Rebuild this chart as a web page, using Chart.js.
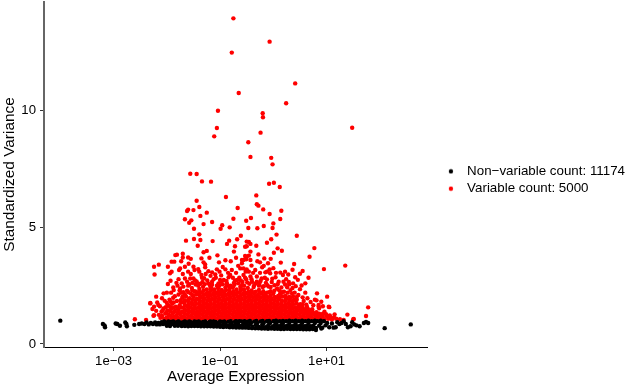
<!DOCTYPE html>
<html><head><meta charset="utf-8">
<style>html,body{margin:0;padding:0;background:#fff}#w{width:630px;height:388px}canvas{display:block}</style>
<script src="https://cdn.jsdelivr.net/npm/chart.js@4"></script>
</head><body><div id="w"><canvas id="c" width="630" height="388"></canvas></div>
<script>
// All pairs are [log10(average expression), standardized variance].
const seriesNames=["Non\u2212variable count: 11174","Variable count: 5000"];
const xTickValues=[1e-3,1e-1,1e1];
const xTickLabels=["1e\u221203","1e\u221201","1e+01"];
const yTickValues=[0,5,10];
const variableOutliers=[[-0.75,13.96],[-0.07,12.96],[-0.78,12.49],[0.41,11.17],[-0.65,10.76],[0.24,10.32],[-1.04,10.0],[-0.2,9.89],[-0.195,9.72],[-1.06,9.26],[1.48,9.27],[-1.11,8.9],[-0.47,8.65],[-0.43,8.02],[-0.24,9.06],[-0.04,7.98],[-0.015,7.7],[-0.08,6.87],[0.01,6.91],[0.12,6.73],[-0.32,6.37],[-0.31,5.99],[-0.28,5.93],[-0.19,5.77],[0.15,5.71],[-0.07,5.57],[0.13,5.36],[-0.42,5.4],[-0.51,5.28],[0,5.17],[-0.18,5.06],[-0.47,4.97],[-0.3,4.96],[-0.015,4.97],[-1.56,7.3],[-1.44,7.29],[-1.34,6.97],[-1.17,6.96],[-0.89,6.3],[-1.44,6.14],[-1.39,5.87],[-0.67,5.83],[-1.6,5.76],[-1.62,5.7],[-1.5,5.74],[-1.25,5.63],[-1.37,5.49],[-1.66,5.35],[-1.54,5.3],[-1.58,5.2],[-1.31,5.14],[-1.15,5.23],[-0.75,5.37],[-0.96,5.09],[-0.82,5.0],[-0.99,4.94],[-1.49,4.94]];
const variableFringe=[[-1.64,4.43],[-1.49,4.5],[-1.39,4.7],[-1.37,4.46],[-1.42,4.21],[-1.14,4.41],[-0.83,4.43],[-0.87,4.29],[-0.68,4.49],[-0.61,4.64],[-0.72,4.19],[-0.74,3.96],[-0.5,4.39],[-0.46,4.37],[-0.53,4.17],[-0.43,3.96],[-1.31,3.93],[-1.25,3.99],[-1.7,3.87],[-1.84,3.81],[-1.81,3.83],[-1.6,3.71],[-1.7,3.71],[-1.35,3.67],[-1.91,3.53],[-1.86,3.53],[-1.31,3.5],[-1.28,3.41],[-1.28,3.29],[-1.02,3.5],[-0.9,3.59],[-1.59,3.44],[-1.66,3.31],[-1.98,3.31],[-2.24,3.31],[-2.15,3.4],[-2.23,2.98],[-1.75,3.24],[-1.77,3.17],[-1.91,3.1],[-1.94,3.03],[-1.41,3.21],[-1.5,3.31],[-1.48,3.17],[-1.39,3.1],[-1.27,3.0],[-1.15,3.07],[-1.09,2.98],[-1.01,3.1],[-0.9,3.2],[-0.78,3.17],[-0.62,3.24],[-0.56,3.6],[-0.5,3.74],[-0.59,3.46],[-0.43,3.6],[-1.93,2.71],[-1.98,2.57],[-1.66,2.81],[-1.56,2.81],[-1.62,2.67],[-1.5,2.81],[-1.34,2.84],[-1.15,2.67],[-1.03,2.6],[-0.93,2.74],[-0.81,2.96],[-0.68,2.74],[-0.56,2.96],[-1.75,2.38],[-1.87,2.31],[-1.69,2.46],[-2.06,2.17],[-2.0,2.2],[-2.2,2.03],[-2.09,1.96],[-2.31,1.74],[-2.24,1.6],[-2.16,1.67],[-2.25,1.21],[-2.39,1.03],[-2.6,1.06],[-2.24,1.23],[-2.31,1.76],
[0.06,4.69],[0.44,4.64],[-0.04,4.49],[-0.12,4.34],[-0.43,4.29],[-0.32,4.21],[-0.5,4.19],[0.08,4.1],[0.16,4.0],[0.77,4.11],[0.01,3.91],[-0.28,3.84],[-0.46,3.79],[-0.53,3.77],[-0.17,3.67],[0.68,3.74],[-0.51,3.63],[-0.59,3.6],[0.14,3.49],[-0.1,3.46],[0.39,3.43],[1.35,3.36],[0.36,3.18],[0.55,3.13],[0.5,3.01],[0.95,3.21],[-0.56,3.24],[-0.41,3.36],[-0.5,3.2],[-0.34,3.17],[-0.21,3.29],[-0.15,3.07],[-0.07,3.2],[0.13,3.06],[0.18,2.96],[0.41,2.86],[0.66,2.84],[-0.22,2.81],[-0.12,2.77],[-0.06,3.03],[0.04,2.86],[0.1,2.67],[0.19,2.67],[0.37,2.6],[0.53,2.51],[-0.31,2.89],[-0.43,2.89],[-0.4,2.67],[-0.31,2.67],[-0.18,2.48],[-0.09,2.46],[0.07,2.38],[0.26,2.43],[0.32,2.31],[0.35,2.17],[0.82,2.17],[1.01,2.03],[0.81,1.87],[0.9,1.81],[0.57,1.84],[0.51,1.71],[0.13,2.17],[0,2.17],[0.63,1.6],[0.73,1.49],[0.85,1.6],[0.86,1.53],[1.05,1.58],[0.96,1.38],[0.99,1.28],[1.15,1.27],[1.25,1.06],[1.39,1.26],[1.5,1.06],[1.32,1.03],[1.78,1.57],[1.74,1.2],[1.51,1.07],[1.04,1.6],[0.85,1.67],
[-1.82,2.62],[-1.44,2.68],[-1.24,2.72],[-1.08,2.84],[-0.87,2.58],[-0.74,2.62],[-0.61,2.72],[-0.49,2.64],[-0.26,2.58],[-0.03,2.66],[0.24,2.78],[0.3,2.56],[-1.58,2.56],[-1.37,2.58],[-1.19,2.52],[-0.98,2.68],[-0.76,2.84],[-0.53,2.84],[-0.36,2.52],[-0.14,2.62]];
const variableUpper=[[-1.88,2.42],[-1.8,2.5],[-1.72,2.6],[-1.78,2.78],[-1.52,2.62],[-1.47,2.72],[-1.41,2.5],[-1.33,2.66],[-1.3,2.82],[-1.22,2.6],[-1.17,2.55],[-1.12,2.78],[-1.06,2.5],[-1.0,2.74],[-0.95,2.56],[-0.88,2.7],[-0.84,2.86],[-0.8,2.5],[-0.72,2.72],[-0.66,2.6],[-0.64,2.84],[-0.58,2.66],[-0.55,2.5],[-0.51,2.78],[-0.45,2.58],[-0.41,2.78],[-0.37,2.44],[-0.33,2.6],[-0.27,2.5],[-0.24,2.7],[-0.2,2.44],[-0.16,2.84],[-0.11,2.52],[-0.05,2.44],[-0.02,2.8],[0.02,2.52],[0.08,2.56],[0.11,2.3],[0.15,2.42],[0.2,2.24],[0.22,2.55],[0.27,2.2],[0.29,2.66],[0.36,2.4],[0.4,2.2],[0.42,2.48],[0.47,2.1],[0.5,2.35],[0.55,2.0],[0.6,2.2],[0.64,1.96],[0.7,1.8],[0.75,1.66],[0.78,1.9],[0.93,1.62],
[-1.7,3.0],[-1.6,3.1],[-1.55,3.0],[-1.35,2.96],[-1.22,3.12],[-1.18,2.92],[-1.06,3.2],[-0.98,2.94],[-0.95,3.3],[-0.85,3.05],[-0.7,3.05],[-0.66,3.35],[-0.52,3.1],[-0.46,3.1],[-0.38,3.05],[-0.25,3.05],[-0.18,3.35],[-0.12,3.1],[0.0,3.25],[0.05,3.05],[0.22,3.1],[0.28,2.98],[0.46,2.75],[0.6,2.6],[-1.73,3.55],[-1.55,3.65],[-1.2,3.7],[-1.05,3.8],[-0.8,3.55],[-0.7,3.7],[-0.3,3.55],[-0.25,3.5],[-0.05,3.65],
[-1.73,2.2],[-1.66,2.12],[-1.59,2.22],[-1.52,2.3],[-1.45,2.24],[-1.38,2.22],[-1.31,2.3],[-1.24,2.22],[-1.17,2.42],[-1.1,2.24],[-1.03,2.42],[-0.96,2.26],[-0.89,2.3],[-0.82,2.4],[-0.75,2.26],[-0.68,2.22],[-0.61,2.38],[-0.54,2.22],[-0.47,2.24],[-0.4,2.04],[-0.4,2.22],[-0.33,2.24],[-0.26,2.02],[-0.26,2.2],[-0.19,2.26],[-0.12,2.04],[-0.12,2.2],[-0.05,2.26],[0.02,2.02],[0.02,2.28],[0.09,2.06],[0.16,2.04],[0.16,2.22],[0.23,2.06],[0.3,2.02],[0.37,2.04],[0.44,2.02]];
const variableEdges=[[-2.2,1.42],[-2.18,1.78],[-2.27,1.5],[-2.15,1.25],[-2.09,1.2],[-2.08,1.44],[-2.0,1.14],[-2.01,1.35],[-2.02,1.58],[-2.0,1.76],[-1.93,1.2],[-1.94,1.4],[-1.94,1.6],[-1.93,1.82],[-1.87,1.16],[-1.87,1.36],[-1.87,1.56],[-1.87,1.78],[-1.7,2.04],[0.58,1.48],[0.65,1.5],[0.72,1.46],[0.79,1.32],[0.86,1.3],[0.93,1.3],[1.0,1.2],[1.08,1.14],[1.14,1.14],[0.47,1.68],[0.55,1.7],[0.62,1.68],[0.4,1.9],[0.37,1.88]];
const variableCore=[[-2.12,1.12],[-2.1,1.38],[-2.13,1.62],[-2.05,1.08],[-2.03,1.3],[-2.06,1.52],[-2.04,1.85],[-1.98,1.06],[-1.96,1.24],[-1.99,1.44],[-1.97,1.66],[-1.95,1.9],[-1.91,1.1],[-1.89,1.3],[-1.92,1.5],[-1.9,1.72],[-1.88,1.98],[-1.92,2.2],[-1.84,1.05],[-1.82,1.22],[-1.85,1.42],[-1.83,1.6],[-1.81,1.84],[-1.85,2.05],[-1.77,1.08],[-1.75,1.27],[-1.78,1.46],[-1.76,1.66],[-1.74,1.88],[-1.78,2.12],[-1.76,2.3],
[-1.7,1.04],[-1.68,1.2],[-1.71,1.38],[-1.69,1.56],[-1.67,1.76],[-1.71,1.98],[-1.69,2.22],[-1.63,1.08],[-1.61,1.25],[-1.64,1.43],[-1.62,1.62],[-1.6,1.82],[-1.64,2.04],[-1.62,2.28],[-1.6,2.5],[-1.56,1.05],[-1.54,1.22],[-1.57,1.4],[-1.55,1.58],[-1.53,1.78],[-1.57,1.96],[-1.55,2.16],[-1.53,2.4],[-1.49,1.08],[-1.47,1.26],[-1.5,1.44],[-1.48,1.63],[-1.46,1.82],[-1.5,2.02],[-1.48,2.26],[-1.46,2.55],
[-1.42,1.05],[-1.4,1.22],[-1.43,1.4],[-1.41,1.58],[-1.39,1.76],[-1.43,1.94],[-1.41,2.14],[-1.39,2.36],[-1.43,2.6],[-1.35,1.08],[-1.33,1.26],[-1.36,1.44],[-1.34,1.62],[-1.32,1.8],[-1.36,2.0],[-1.34,2.2],[-1.32,2.45],[-1.28,1.05],[-1.26,1.22],[-1.29,1.4],[-1.27,1.58],[-1.25,1.76],[-1.29,1.95],[-1.27,2.14],[-1.25,2.34],[-1.29,2.56],[-1.21,1.08],[-1.19,1.26],[-1.22,1.44],[-1.2,1.62],[-1.18,1.8],[-1.22,1.98],[-1.2,2.18],[-1.18,2.4],
[-1.14,1.05],[-1.12,1.22],[-1.15,1.4],[-1.13,1.58],[-1.11,1.76],[-1.15,1.94],[-1.13,2.14],[-1.11,2.34],[-1.15,2.54],[-1.07,1.08],[-1.05,1.26],[-1.08,1.44],[-1.06,1.62],[-1.04,1.8],[-1.08,1.98],[-1.06,2.18],[-1.04,2.4],[-1.0,1.05],[-0.98,1.22],[-1.01,1.4],[-0.99,1.58],[-0.97,1.76],[-1.01,1.94],[-0.99,2.14],[-0.97,2.32],[-1.01,2.52],[-0.93,1.08],[-0.91,1.26],[-0.94,1.44],[-0.92,1.62],[-0.9,1.8],[-0.94,1.98],[-0.92,2.18],[-0.9,2.42],
[-0.86,1.05],[-0.84,1.22],[-0.87,1.4],[-0.85,1.58],[-0.83,1.76],[-0.87,1.94],[-0.85,2.14],[-0.83,2.32],[-0.87,2.5],[-0.79,1.08],[-0.77,1.26],[-0.8,1.44],[-0.78,1.62],[-0.76,1.8],[-0.8,1.98],[-0.78,2.18],[-0.76,2.42],[-0.72,1.05],[-0.7,1.22],[-0.73,1.4],[-0.71,1.58],[-0.69,1.76],[-0.73,1.94],[-0.71,2.14],[-0.69,2.34],[-0.73,2.54],[-0.65,1.08],[-0.63,1.26],[-0.66,1.44],[-0.64,1.62],[-0.62,1.8],[-0.66,1.98],[-0.64,2.2],[-0.62,2.45],
[-0.58,1.05],[-0.56,1.22],[-0.59,1.4],[-0.57,1.58],[-0.55,1.76],[-0.59,1.94],[-0.57,2.14],[-0.55,2.34],[-0.59,2.52],[-0.51,1.08],[-0.49,1.26],[-0.52,1.44],[-0.5,1.62],[-0.48,1.8],[-0.52,1.98],[-0.5,2.18],[-0.48,2.4],[-0.44,1.05],[-0.42,1.22],[-0.45,1.4],[-0.43,1.58],[-0.41,1.76],[-0.45,1.94],[-0.43,2.12],[-0.41,2.3],[-0.37,1.08],[-0.35,1.26],[-0.38,1.44],[-0.36,1.62],[-0.34,1.8],[-0.38,1.98],[-0.36,2.16],
[-0.3,1.05],[-0.28,1.22],[-0.31,1.4],[-0.29,1.58],[-0.27,1.76],[-0.31,1.94],[-0.29,2.1],[-0.27,2.32],[-0.23,1.08],[-0.21,1.26],[-0.24,1.44],[-0.22,1.62],[-0.2,1.8],[-0.24,1.98],[-0.22,2.18],[-0.16,1.05],[-0.14,1.22],[-0.17,1.4],[-0.15,1.58],[-0.13,1.76],[-0.17,1.94],[-0.15,2.14],[-0.09,1.08],[-0.07,1.26],[-0.1,1.44],[-0.08,1.62],[-0.06,1.8],[-0.1,1.98],[-0.08,2.22],
[-0.02,1.05],[0,1.22],[-0.03,1.4],[-0.01,1.58],[0.01,1.76],[-0.03,1.94],[0.05,1.08],[0.07,1.26],[0.04,1.44],[0.06,1.62],[0.08,1.8],[0.04,2.0],[0.12,1.05],[0.14,1.22],[0.11,1.4],[0.13,1.58],[0.15,1.76],[0.11,1.96],[0.19,1.08],[0.21,1.26],[0.18,1.44],[0.2,1.62],[0.22,1.82],[0.18,2.04],[0.26,1.05],[0.28,1.22],[0.25,1.4],[0.27,1.58],[0.29,1.76],[0.25,1.96],
[0.33,1.08],[0.35,1.26],[0.32,1.44],[0.34,1.62],[0.36,1.8],[0.32,1.98],[0.4,1.05],[0.42,1.22],[0.39,1.4],[0.41,1.58],[0.43,1.76],[0.47,1.08],[0.49,1.26],[0.46,1.44],[0.48,1.6],[0.44,1.9],[0.54,1.05],[0.56,1.22],[0.53,1.4],[0.55,1.56],[0.61,1.08],[0.63,1.26],[0.6,1.42],[0.68,1.05],[0.7,1.22],[0.67,1.38],[0.75,1.08],[0.77,1.26],[0.74,1.36],[0.82,1.05],[0.84,1.2],[0.81,1.36],[0.89,1.08],[0.91,1.24],[0.96,1.05],[1.03,1.08],[1.06,1.22],[1.1,1.05],[1.18,1.08]];
const variableCoreFill=[[-1.8,1.14],[-1.8,1.33],[-1.8,1.52],[-1.73,1.15],[-1.73,1.36],[-1.73,1.56],[-1.73,1.78],[-1.66,1.12],[-1.66,1.3],[-1.66,1.48],[-1.66,1.66],[-1.66,1.88],[-1.59,1.16],[-1.59,1.34],[-1.59,1.52],[-1.59,1.7],[-1.59,1.92],[-1.52,1.14],[-1.52,1.33],[-1.52,1.5],[-1.52,1.7],[-1.52,1.9],[-1.52,2.1],[-1.45,1.16],[-1.45,1.34],[-1.45,1.52],[-1.45,1.72],[-1.45,1.92],[-1.45,2.12],[-1.38,1.14],[-1.38,1.33],[-1.38,1.52],[-1.38,1.7],[-1.38,1.88],[-1.38,2.08],[-1.31,1.16],[-1.31,1.34],[-1.31,1.52],[-1.31,1.7],[-1.31,1.9],[-1.31,2.1],[-1.24,1.14],[-1.24,1.32],[-1.24,1.5],[-1.24,1.68],[-1.24,1.86],[-1.24,2.06],[-1.17,1.16],[-1.17,1.34],[-1.17,1.52],[-1.17,1.7],[-1.17,1.9],[-1.17,2.08],[-1.17,2.28],[-1.1,1.14],[-1.1,1.32],[-1.1,1.5],[-1.1,1.68],[-1.1,1.86],[-1.1,2.06],[-1.03,1.16],[-1.03,1.34],[-1.03,1.52],[-1.03,1.7],[-1.03,1.9],[-1.03,2.08],[-1.03,2.26],[-0.96,1.14],[-0.96,1.32],[-0.96,1.5],[-0.96,1.68],[-0.96,1.86],[-0.96,2.06],[-0.89,1.16],[-0.89,1.34],[-0.89,1.52],[-0.89,1.7],[-0.89,1.9],[-0.89,2.08],[-0.82,1.14],[-0.82,1.32],[-0.82,1.5],[-0.82,1.68],[-0.82,1.86],[-0.82,2.06],[-0.82,2.24],[-0.75,1.16],[-0.75,1.34],[-0.75,1.52],[-0.75,1.7],[-0.75,1.9],[-0.75,2.08],[-0.68,1.14],[-0.68,1.32],[-0.68,1.5],[-0.68,1.68],[-0.68,1.86],[-0.68,2.06],[-0.61,1.16],[-0.61,1.34],[-0.61,1.52],[-0.61,1.7],[-0.61,1.9],[-0.61,2.08],[-0.61,2.28],[-0.54,1.14],[-0.54,1.32],[-0.54,1.5],[-0.54,1.68],[-0.54,1.86],[-0.54,2.06],[-0.47,1.16],[-0.47,1.34],[-0.47,1.52],[-0.47,1.7],[-0.47,1.88],[-0.47,2.06],[-0.4,1.14],[-0.4,1.32],[-0.4,1.5],[-0.4,1.68],[-0.4,1.86],[-0.33,1.16],[-0.33,1.34],[-0.33,1.52],[-0.33,1.7],[-0.33,1.88],[-0.33,2.04],[-0.26,1.14],[-0.26,1.32],[-0.26,1.5],[-0.26,1.68],[-0.26,1.86],[-0.19,1.16],[-0.19,1.34],[-0.19,1.52],[-0.19,1.7],[-0.19,1.88],[-0.19,2.06],[-0.12,1.14],[-0.12,1.32],[-0.12,1.5],[-0.12,1.68],[-0.12,1.86],[-0.05,1.16],[-0.05,1.34],[-0.05,1.52],[-0.05,1.7],[-0.05,1.88],[-0.05,2.08],[0.02,1.14],[0.02,1.32],[0.02,1.5],[0.02,1.68],[0.02,1.86],[0.09,1.16],[0.09,1.34],[0.09,1.52],[0.09,1.7],[0.09,1.9],[0.16,1.14],[0.16,1.32],[0.16,1.5],[0.16,1.68],[0.16,1.86],[0.23,1.16],[0.23,1.34],[0.23,1.52],[0.23,1.7],[0.23,1.9],[0.3,1.14],[0.3,1.32],[0.3,1.5],[0.3,1.68],[0.3,1.86],[0.37,1.16],[0.37,1.34],[0.37,1.52],[0.37,1.7],[0.44,1.14],[0.44,1.32],[0.44,1.5],[0.51,1.16],[0.51,1.34],[0.51,1.52],[0.58,1.14],[0.58,1.32],[0.65,1.16],[0.65,1.34],[0.72,1.14],[0.72,1.3],[0.79,1.16],[0.86,1.14],[0.93,1.16]];
const nonVariablePoints=[[-4.0,1.0],[-3.2,0.86],[-3.17,0.8],[-3.16,0.72],[-2.96,0.88],[-2.93,0.86],[-2.88,0.78],[-2.78,0.92],[-2.76,0.86],[-2.75,0.76],[-2.61,0.82],
[-2.52,0.86],[-2.47,0.88],[-2.42,0.86],[-2.38,0.92],[-2.34,0.84],[-2.3,0.9],[-2.26,0.86],[-2.22,0.92],[-2.19,0.84],[-2.16,0.9],[-2.13,0.84],[-2.1,0.93],[-2.07,0.86],[-2.04,0.94],[-2.01,0.85],[-1.98,0.92],[-1.95,0.84],[-1.92,0.95],[-1.89,0.86],[-1.86,0.93],[-1.83,0.84],[-1.8,0.95],[-1.77,0.86],[-1.74,0.92],[-1.71,0.83],[-1.68,0.95],[-1.65,0.86],[-1.62,0.92],[-1.59,0.83],[-1.56,0.95],[-1.53,0.85],[-1.5,0.92],[-1.47,0.83],[-1.44,0.95],[-1.41,0.86],[-1.38,0.92],[-1.35,0.83],[-1.32,0.95],[-1.29,0.85],[-1.26,0.91],[-1.23,0.83],[-1.2,0.95],[-1.17,0.85],[-1.14,0.91],[-1.11,0.82],[-1.08,0.95],[-1.05,0.84],[-1.02,0.91],[-0.99,0.81],[-0.96,0.95],[-0.93,0.84],[-0.9,0.91],[-0.87,0.8],[-0.84,0.96],[-0.81,0.84],[-0.78,0.9],[-0.75,0.78],[-0.72,0.96],[-0.69,0.83],[-0.66,0.9],[-0.63,0.77],[-0.6,0.97],[-0.57,0.83],[-0.54,0.9],[-0.51,0.76],[-0.48,0.96],[-0.45,0.82],[-0.42,0.9],[-0.39,0.74],[-0.36,0.96],[-0.33,0.82],[-0.3,0.9],[-0.27,0.73],[-0.24,0.97],[-0.21,0.82],[-0.18,0.9],[-0.15,0.72],[-0.12,0.98],[-0.09,0.82],[-0.06,0.9],[-0.03,0.72],[0,0.98],[0.03,0.82],[0.06,0.9],[0.09,0.71],[0.12,0.98],[0.15,0.82],[0.18,0.9],[0.21,0.7],[0.24,0.98],[0.27,0.8],[0.3,0.9],[0.33,0.7],[0.36,0.98],[0.39,0.8],[0.42,0.9],[0.45,0.7],[0.48,0.98],[0.51,0.8],[0.54,0.9],[0.57,0.68],[0.6,0.98],[0.63,0.78],[0.66,0.9],[0.69,0.69],[0.72,0.98],[0.75,0.78],[0.78,0.9],[0.8,0.6],[0.83,0.98],[0.86,0.78],[0.89,0.9],[0.92,0.7],[0.95,0.98],[0.98,0.8],[1.01,0.9],[1.05,0.72],
[-2.0,0.78],[-1.85,0.78],[-1.72,0.77],[-1.6,0.76],[-1.48,0.77],[-1.36,0.76],[-1.24,0.76],[-1.12,0.75],[-1.0,0.74],[-0.88,0.74],[-0.76,0.72],[-0.64,0.71],[-0.52,0.7],[-0.4,0.68],[-0.28,0.67],[-0.16,0.66],[-0.04,0.66],[0.08,0.65],[0.2,0.64],[0.32,0.64],[0.44,0.64],[0.56,0.63],[0.68,0.63],[0.04,0.77],[0.16,0.76],[0.28,0.74],[0.4,0.75],[0.52,0.74],[0.64,0.72],
[-1.94,0.77],[-1.79,0.78],[-1.66,0.77],[-1.54,0.77],[-1.42,0.77],[-1.3,0.76],[-1.18,0.76],[-1.06,0.75],[-0.94,0.73],[-0.82,0.72],[-0.7,0.71],[-0.58,0.7],[-0.46,0.69],[-0.34,0.67],[-0.22,0.66],[-0.1,0.65],[0.02,0.65],[0.14,0.64],[0.26,0.65],[0.38,0.64],[0.5,0.64],[0.62,0.63],[0.74,0.64],[0.8,0.69],[0.9,0.66],
[-1.9,0.88],[-1.7,0.88],[-1.5,0.88],[-1.3,0.88],[-1.1,0.88],[-0.9,0.86],[-0.7,0.88],[-0.5,0.85],[-0.3,0.76],[-0.2,0.76],[-0.1,0.76],[0,0.76],[0.1,0.76],[0.22,0.76],[0.34,0.76],[0.46,0.76],[0.58,0.76],[0.7,0.76],
[-2.05,0.97],[-1.97,0.97],[-1.88,0.97],[-1.78,0.97],[-1.66,0.97],[-1.58,0.97],[-1.48,0.97],[-1.4,0.97],[-1.28,0.97],[-1.18,0.97],[-1.12,0.97],[-1.0,0.97],[-0.92,0.97],[-0.8,0.98],[-0.7,0.98],[-0.64,0.98],[-0.54,0.98],[-0.44,0.99],[-0.32,0.99],[-0.2,0.99],[-0.08,0.99],[0.05,1.0],[0.18,0.99],[0.3,1.0],[0.42,1.0],[0.54,1.0],[0.66,1.0],[0.78,1.0],[0.89,1.0],
[1.1,0.88],[1.13,0.7],[1.17,0.72],[1.2,0.93],[1.24,0.86],[1.28,0.9],[1.32,0.98],[1.36,0.86],[1.4,0.72],[1.45,0.76],[1.48,0.93],[1.52,0.84],[1.56,0.8],[1.62,0.76],[1.7,0.9],[1.74,0.95],[1.78,0.9],[2.09,0.68],[2.58,0.84]];
const toPoints=pairs=>pairs.map(([logExpr,variance])=>({x:Math.pow(10,logExpr),y:variance}));
function dot(color){const c=document.createElement('canvas');c.width=6;c.height=6;const g=c.getContext('2d');g.fillStyle=color;g.beginPath();g.arc(3,3,2.2,0,Math.PI*2);g.fill();return c;}
const base={showLine:false,pointRadius:2.2,pointHoverRadius:2.2,pointBorderWidth:0};
const font={family:"'Liberation Sans', Arial, sans-serif"};
new Chart(document.getElementById('c'),{
type:'scatter',
data:{datasets:[
{...base,label:seriesNames[0],order:0,data:toPoints(nonVariablePoints),backgroundColor:'#000',pointBackgroundColor:'#000',pointStyle:'circle'},
{...base,label:seriesNames[1],order:1,data:toPoints([...variableOutliers,...variableFringe,...variableUpper,...variableEdges,...variableCore,...variableCoreFill]),backgroundColor:'#f00',pointBackgroundColor:'#f00',pointStyle:'circle'}
]},
options:{responsive:false,animation:false,devicePixelRatio:1,
layout:{autoPadding:false,padding:{top:2,left:0,right:5,bottom:0}},
plugins:{tooltip:{enabled:false},
legend:{position:'right',align:'center',maxWidth:220,labels:{color:'#000',font:{...font,size:13.35},usePointStyle:true,pointStyleWidth:19,boxHeight:13,padding:4,
generateLabels:ch=>ch.data.datasets.map((d,i)=>({text:d.label,fillStyle:d.pointBackgroundColor,strokeStyle:d.pointBackgroundColor,lineWidth:0,pointStyle:dot(d.pointBackgroundColor),datasetIndex:i,fontColor:'#000'}))}}},
scales:{
x:{type:'logarithmic',position:'bottom',min:Math.pow(10,-4.306),max:Math.pow(10,2.893),
afterBuildTicks:s=>{s.ticks=xTickValues.map(v=>({value:v,major:true}));},
afterFit:s=>{s.height=41;s.paddingLeft=0;s.paddingRight=0;},
border:{color:'#000',width:1},
grid:{drawOnChartArea:false,drawTicks:true,tickLength:4,tickColor:'#333'},
ticks:{color:'#000',font:{...font,size:13.2},padding:2,maxRotation:0,autoSkip:false,callback:(v)=>{const i=xTickValues.findIndex(t=>Math.abs(t-v)/t<1e-6);return i>=0?xTickLabels[i]:'';}},
title:{display:true,text:'Average Expression',color:'#000',font:{...font,size:15.4},padding:{top:2,bottom:2}}},
y:{type:'linear',position:'left',min:-0.129,max:14.66,
afterBuildTicks:s=>{s.ticks=yTickValues.map(v=>({value:v}));},
afterFit:s=>{s.width=44;s.paddingTop=0;s.paddingBottom=0;},
border:{color:'#666',width:2},
grid:{drawOnChartArea:false,drawTicks:true,tickLength:4,tickColor:'#333'},
ticks:{color:'#000',font:{...font,size:13.2},padding:4,callback:v=>String(v)},
title:{display:true,text:'Standardized Variance',color:'#000',font:{...font,size:15.4},padding:{top:1,bottom:0}}}
}},
plugins:[{id:'legendShift',afterLayout(ch){const l=ch.legend;const dy=-15,dx=10;l.top+=dy;l.bottom+=dy;l.left+=dx;l.right+=dx;}}]
});
</script></body></html>
